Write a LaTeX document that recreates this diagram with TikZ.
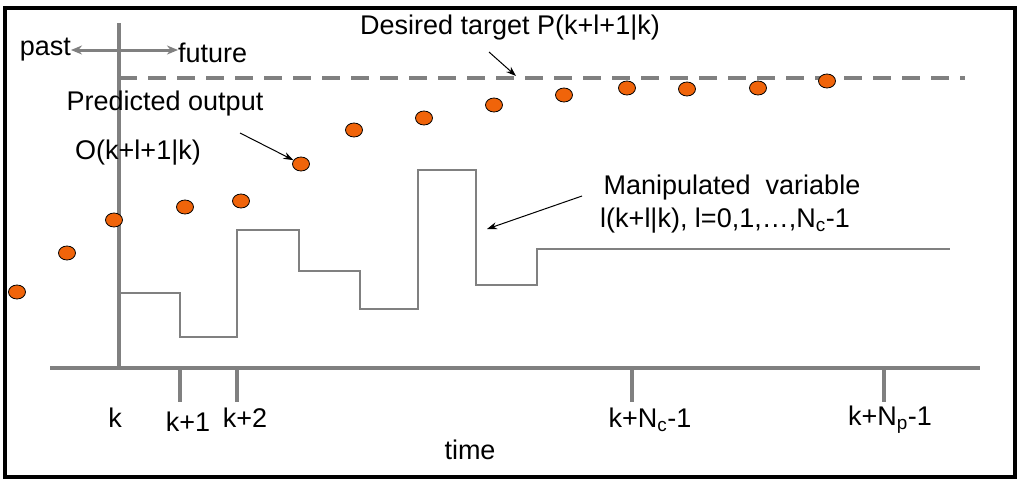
\documentclass[tikz,border=0pt]{standalone}
\usepackage{fontspec}
\setmainfont{Liberation Sans}
\usetikzlibrary{arrows.meta,shapes.geometric}
\definecolor{ax}{RGB}{128,128,128}
\definecolor{dotc}{RGB}{240,100,10}
\begin{document}
\begin{tikzpicture}[x=1pt,y=-1pt,
  axis/.style={draw=ax,line width=4pt},
  lbl/.style={font=\fontsize{27}{30}\selectfont,inner sep=0pt},
  dot/.style={ellipse,draw=black,line width=0.8pt,fill=dotc,minimum width=17pt,minimum height=14pt,inner sep=0pt},
  pointer/.style={draw=black,line width=1pt,-{Stealth[length=10pt,width=7pt]}}]
\useasboundingbox (0,0) rectangle (1024,483);
\fill[white] (0,0) rectangle (1024,483);
\draw[line width=4pt] (5,8) rectangle (1015,477);
% axes
\draw[axis] (119,23) -- (119,370);
\draw[axis] (50,368) -- (980,368);
\foreach \n/\x in {t1/180,t2/237,t3/632,t4/884}{\draw[axis] (\x,368) -- (\x,402);}
\node[lbl] (k) at (115,418) {k};
\node[lbl] (k1) at (188,422) {k+1};
\node[lbl] (k2) at (245,418) {k+2};
\node[lbl] (kc) at (650,420) {k+N\textsubscript{c}-1};
\node[lbl] (kp) at (890,420) {k+N\textsubscript{p}-1};
\node[lbl] (time) at (470,450) {time};
% past/future
\node[lbl,anchor=east] (past) at (71,50) {past};
\node[lbl,anchor=west] (fut) at (178,53) {future};
\draw[draw=ax,line width=3pt,{Stealth[length=11pt,width=9pt]}-{Stealth[length=11pt,width=9pt]}] (past.east) -- (fut.west |- past.east);
% target
\draw[draw=ax,line width=4pt,dash pattern=on 18pt off 11pt] (119,78) -- (965,78);
\node[lbl] (tgt) at (510,28) {Desired target P(k+l+1|k)};
\coordinate (tg) at (516,76);
\draw[pointer] (489,52) -- (tg);
% dots
\foreach \i/\x/\y in {1/17/292,2/67/253,3/114/220,4/185/207,5/241/201,6/301/164,7/354/130,8/424/118,9/494/105,10/564/95,11/627/88,12/687/89,13/758/88,14/827/81}
  \node[dot] (d\i) at (\x,\y) {};
\node[lbl] (po) at (165,104) {Predicted output};
\node[lbl] (po2) at (138,153) {O(k+l+1|k)};
\draw[pointer] (240,133) -- (d6);
% step
\draw[draw=ax,line width=2.5pt] (119,293) -- (180,293) -- (180,337) -- (237,337) -- (237,230) -- (299,230) -- (299,271) -- (360,271) -- (360,309) -- (418,309) -- (418,170) -- (476,170) -- (476,285) -- (537,285) -- (537,249) -- (950,249);
\node[lbl] (mv) at (732,188) {Manipulated\ \ variable};
\node[lbl] (mv2) at (725,221) {l(k+l|k), l=0,1,\dots,N\textsubscript{c}-1};
\coordinate (mvt) at (487,229);
\draw[pointer] (582,196) -- (mvt);
\end{tikzpicture}
\end{document}
